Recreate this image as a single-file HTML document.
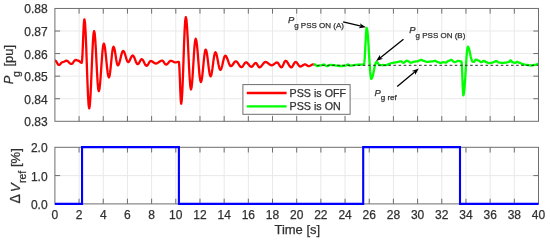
<!DOCTYPE html>
<html><head><meta charset="utf-8"><style>html,body{margin:0;padding:0;background:#fff;width:550px;height:242px;overflow:hidden}svg{display:block;filter:blur(0.3px)}text{stroke:#333;stroke-width:0.25px}</style></head>
<body>
<svg width="550" height="242" viewBox="0 0 550 242">
<rect width="550" height="242" fill="#fff"/>
<defs><clipPath id="ct"><rect x="54.9" y="8.45" width="483.6" height="112.85"/></clipPath><clipPath id="cb"><rect x="52.9" y="145.3" width="487.6" height="60.599999999999994"/></clipPath></defs>
<path d="M79.08,8.45V121.3M79.08,147.3V203.9M103.26,8.45V121.3M103.26,147.3V203.9M127.44,8.45V121.3M127.44,147.3V203.9M151.62,8.45V121.3M151.62,147.3V203.9M175.80,8.45V121.3M175.80,147.3V203.9M199.98,8.45V121.3M199.98,147.3V203.9M224.16,8.45V121.3M224.16,147.3V203.9M248.34,8.45V121.3M248.34,147.3V203.9M272.52,8.45V121.3M272.52,147.3V203.9M296.70,8.45V121.3M296.70,147.3V203.9M320.88,8.45V121.3M320.88,147.3V203.9M345.06,8.45V121.3M345.06,147.3V203.9M369.24,8.45V121.3M369.24,147.3V203.9M393.42,8.45V121.3M393.42,147.3V203.9M417.60,8.45V121.3M417.60,147.3V203.9M441.78,8.45V121.3M441.78,147.3V203.9M465.96,8.45V121.3M465.96,147.3V203.9M490.14,8.45V121.3M490.14,147.3V203.9M514.32,8.45V121.3M514.32,147.3V203.9M54.9,31.02H538.5M54.9,53.59H538.5M54.9,76.16H538.5M54.9,98.73H538.5M54.9,175.60H538.5" stroke="#e9e9e9" stroke-width="1" fill="none"/>
<path d="M79.08,8.45v5.2M79.08,121.3v-5.2M79.08,147.3v5.2M79.08,203.9v-5.2M103.26,8.45v5.2M103.26,121.3v-5.2M103.26,147.3v5.2M103.26,203.9v-5.2M127.44,8.45v5.2M127.44,121.3v-5.2M127.44,147.3v5.2M127.44,203.9v-5.2M151.62,8.45v5.2M151.62,121.3v-5.2M151.62,147.3v5.2M151.62,203.9v-5.2M175.80,8.45v5.2M175.80,121.3v-5.2M175.80,147.3v5.2M175.80,203.9v-5.2M199.98,8.45v5.2M199.98,121.3v-5.2M199.98,147.3v5.2M199.98,203.9v-5.2M224.16,8.45v5.2M224.16,121.3v-5.2M224.16,147.3v5.2M224.16,203.9v-5.2M248.34,8.45v5.2M248.34,121.3v-5.2M248.34,147.3v5.2M248.34,203.9v-5.2M272.52,8.45v5.2M272.52,121.3v-5.2M272.52,147.3v5.2M272.52,203.9v-5.2M296.70,8.45v5.2M296.70,121.3v-5.2M296.70,147.3v5.2M296.70,203.9v-5.2M320.88,8.45v5.2M320.88,121.3v-5.2M320.88,147.3v5.2M320.88,203.9v-5.2M345.06,8.45v5.2M345.06,121.3v-5.2M345.06,147.3v5.2M345.06,203.9v-5.2M369.24,8.45v5.2M369.24,121.3v-5.2M369.24,147.3v5.2M369.24,203.9v-5.2M393.42,8.45v5.2M393.42,121.3v-5.2M393.42,147.3v5.2M393.42,203.9v-5.2M417.60,8.45v5.2M417.60,121.3v-5.2M417.60,147.3v5.2M417.60,203.9v-5.2M441.78,8.45v5.2M441.78,121.3v-5.2M441.78,147.3v5.2M441.78,203.9v-5.2M465.96,8.45v5.2M465.96,121.3v-5.2M465.96,147.3v5.2M465.96,203.9v-5.2M490.14,8.45v5.2M490.14,121.3v-5.2M490.14,147.3v5.2M490.14,203.9v-5.2M514.32,8.45v5.2M514.32,121.3v-5.2M514.32,147.3v5.2M514.32,203.9v-5.2M54.9,31.02h5.2M538.5,31.02h-5.2M54.9,53.59h5.2M538.5,53.59h-5.2M54.9,76.16h5.2M538.5,76.16h-5.2M54.9,98.73h5.2M538.5,98.73h-5.2M54.9,175.60h5.2M538.5,175.60h-5.2" stroke="#6e6e6e" stroke-width="1" fill="none"/>
<g clip-path="url(#ct)">
<path d="M54.80,60.30 L55.34,60.48 L55.88,60.99 L56.41,61.75 L56.95,62.65 L57.49,63.55 L58.02,64.31 L58.56,64.82 L59.10,65.00 L59.51,64.89 L59.92,64.59 L60.34,64.14 L60.75,63.60 L61.16,63.06 L61.58,62.61 L61.99,62.31 L62.40,62.20 L62.91,62.14 L63.42,61.98 L63.94,61.74 L64.45,61.45 L64.96,61.16 L65.47,60.92 L65.99,60.76 L66.50,60.70 L67.10,60.83 L67.70,61.18 L68.30,61.72 L68.90,62.35 L69.50,62.98 L70.10,63.52 L70.70,63.87 L71.30,64.00 L71.86,63.84 L72.42,63.40 L72.99,62.73 L73.55,61.95 L74.11,61.17 L74.67,60.50 L75.24,60.06 L75.80,59.90 L76.08,59.93 L76.35,60.00 L76.62,60.12 L76.90,60.25 L77.17,60.38 L77.45,60.50 L77.72,60.57 L78.00,60.60 L78.46,60.68 L78.92,60.92 L79.39,61.28 L79.85,61.70 L80.31,62.12 L80.78,62.48 L81.24,62.72 L81.70,62.80 L82.04,61.14 L82.38,56.43 L82.71,49.37 L83.05,41.05 L83.39,32.73 L83.73,25.67 L84.06,20.96 L84.40,19.30 L85.00,22.69 L85.60,32.35 L86.20,46.80 L86.80,63.85 L87.40,80.90 L88.00,95.35 L88.60,105.01 L89.20,108.40 L89.81,105.46 L90.42,97.08 L91.04,84.54 L91.65,69.75 L92.26,54.96 L92.88,42.42 L93.49,34.04 L94.10,31.10 L94.69,33.39 L95.27,39.90 L95.86,49.65 L96.45,61.15 L97.04,72.65 L97.62,82.40 L98.21,88.91 L98.80,91.20 L99.42,89.39 L100.05,84.23 L100.67,76.51 L101.30,67.40 L101.92,58.29 L102.55,50.57 L103.17,45.41 L103.80,43.60 L104.44,44.89 L105.08,48.55 L105.71,54.03 L106.35,60.50 L106.99,66.97 L107.62,72.45 L108.26,76.11 L108.90,77.40 L109.48,76.24 L110.05,72.92 L110.62,67.96 L111.20,62.10 L111.78,56.24 L112.35,51.28 L112.92,47.96 L113.50,46.80 L114.05,47.51 L114.60,49.52 L115.15,52.54 L115.70,56.10 L116.25,59.66 L116.80,62.68 L117.35,64.69 L117.90,65.40 L118.56,64.85 L119.23,63.28 L119.89,60.92 L120.55,58.15 L121.21,55.38 L121.88,53.02 L122.54,51.45 L123.20,50.90 L123.83,51.33 L124.45,52.54 L125.08,54.36 L125.70,56.50 L126.32,58.64 L126.95,60.46 L127.57,61.67 L128.20,62.10 L128.76,61.85 L129.32,61.13 L129.89,60.06 L130.45,58.80 L131.01,57.54 L131.57,56.47 L132.14,55.75 L132.70,55.50 L133.32,55.83 L133.95,56.77 L134.57,58.19 L135.20,59.85 L135.82,61.51 L136.45,62.93 L137.07,63.87 L137.70,64.20 L138.21,64.01 L138.72,63.47 L139.24,62.66 L139.75,61.70 L140.26,60.74 L140.78,59.93 L141.29,59.39 L141.80,59.20 L142.39,59.45 L142.98,60.17 L143.56,61.24 L144.15,62.50 L144.74,63.76 L145.32,64.83 L145.91,65.55 L146.50,65.80 L147.04,65.62 L147.57,65.10 L148.11,64.32 L148.65,63.40 L149.19,62.48 L149.73,61.70 L150.26,61.18 L150.80,61.00 L151.43,61.10 L152.05,61.37 L152.68,61.77 L153.30,62.25 L153.93,62.73 L154.55,63.13 L155.18,63.40 L155.80,63.50 L156.60,63.39 L157.40,63.08 L158.20,62.60 L159.00,62.05 L159.80,61.50 L160.60,61.02 L161.40,60.71 L162.20,60.60 L162.69,60.75 L163.17,61.19 L163.66,61.83 L164.15,62.60 L164.64,63.37 L165.12,64.01 L165.61,64.45 L166.10,64.60 L166.69,64.46 L167.28,64.04 L167.86,63.43 L168.45,62.70 L169.04,61.97 L169.62,61.36 L170.21,60.94 L170.80,60.80 L171.38,60.86 L171.95,61.03 L172.53,61.29 L173.10,61.60 L173.68,61.91 L174.25,62.17 L174.83,62.34 L175.40,62.40 L175.83,62.38 L176.25,62.31 L176.68,62.21 L177.10,62.10 L177.53,61.99 L177.95,61.89 L178.38,61.82 L178.80,61.80 L179.10,63.39 L179.40,67.94 L179.70,74.73 L180.00,82.75 L180.30,90.77 L180.60,97.56 L180.90,102.11 L181.20,103.70 L181.77,100.40 L182.35,91.02 L182.93,76.97 L183.50,60.40 L184.07,43.83 L184.65,29.78 L185.23,20.40 L185.80,17.10 L186.45,19.85 L187.10,27.69 L187.75,39.42 L188.40,53.25 L189.05,67.08 L189.70,78.81 L190.35,86.65 L191.00,89.40 L191.59,87.47 L192.18,81.99 L192.76,73.78 L193.35,64.10 L193.94,54.42 L194.52,46.21 L195.11,40.73 L195.70,38.80 L196.35,40.45 L197.00,45.14 L197.65,52.16 L198.30,60.45 L198.95,68.74 L199.60,75.76 L200.25,80.45 L200.90,82.10 L201.50,80.86 L202.10,77.34 L202.70,72.07 L203.30,65.85 L203.90,59.63 L204.50,54.36 L205.10,50.84 L205.70,49.60 L206.31,50.62 L206.92,53.51 L207.54,57.84 L208.15,62.95 L208.76,68.06 L209.38,72.39 L209.99,75.28 L210.60,76.30 L211.20,75.39 L211.80,72.79 L212.40,68.89 L213.00,64.30 L213.60,59.71 L214.20,55.81 L214.80,53.21 L215.40,52.30 L216.03,52.97 L216.65,54.88 L217.28,57.73 L217.90,61.10 L218.53,64.47 L219.15,67.32 L219.78,69.23 L220.40,69.90 L221.01,69.36 L221.62,67.82 L222.24,65.52 L222.85,62.80 L223.46,60.08 L224.08,57.78 L224.69,56.24 L225.30,55.70 L226.00,56.10 L226.70,57.24 L227.40,58.94 L228.10,60.95 L228.80,62.96 L229.50,64.66 L230.20,65.80 L230.90,66.20 L231.51,66.01 L232.12,65.48 L232.74,64.69 L233.35,63.75 L233.96,62.81 L234.58,62.02 L235.19,61.49 L235.80,61.30 L236.51,61.52 L237.23,62.16 L237.94,63.12 L238.65,64.25 L239.36,65.38 L240.07,66.34 L240.79,66.98 L241.50,67.20 L242.06,67.01 L242.62,66.48 L243.19,65.69 L243.75,64.75 L244.31,63.81 L244.88,63.02 L245.44,62.49 L246.00,62.30 L246.68,62.47 L247.35,62.96 L248.03,63.69 L248.70,64.55 L249.38,65.41 L250.05,66.14 L250.72,66.63 L251.40,66.80 L251.94,66.66 L252.47,66.24 L253.01,65.63 L253.55,64.90 L254.09,64.17 L254.62,63.56 L255.16,63.14 L255.70,63.00 L256.18,63.16 L256.65,63.63 L257.12,64.33 L257.60,65.15 L258.07,65.97 L258.55,66.67 L259.02,67.14 L259.50,67.30 L260.25,67.10 L261.00,66.52 L261.75,65.66 L262.50,64.65 L263.25,63.64 L264.00,62.78 L264.75,62.20 L265.50,62.00 L266.27,62.13 L267.05,62.48 L267.82,63.02 L268.60,63.65 L269.38,64.28 L270.15,64.82 L270.93,65.17 L271.70,65.30 L272.36,65.19 L273.02,64.89 L273.69,64.44 L274.35,63.90 L275.01,63.36 L275.68,62.91 L276.34,62.61 L277.00,62.50 L277.56,62.68 L278.12,63.20 L278.69,63.98 L279.25,64.90 L279.81,65.82 L280.38,66.60 L280.94,67.12 L281.50,67.30 L282.01,67.06 L282.52,66.36 L283.04,65.32 L283.55,64.10 L284.06,62.88 L284.58,61.84 L285.09,61.14 L285.60,60.90 L286.31,61.14 L287.03,61.84 L287.74,62.88 L288.45,64.10 L289.16,65.32 L289.88,66.36 L290.59,67.06 L291.30,67.30 L291.84,67.10 L292.38,66.52 L292.91,65.66 L293.45,64.65 L293.99,63.64 L294.53,62.78 L295.06,62.20 L295.60,62.00 L296.19,62.17 L296.78,62.66 L297.36,63.39 L297.95,64.25 L298.54,65.11 L299.12,65.84 L299.71,66.33 L300.30,66.50 L300.89,66.42 L301.48,66.19 L302.06,65.85 L302.65,65.45 L303.24,65.05 L303.82,64.71 L304.41,64.48 L305.00,64.40 L305.45,64.46 L305.90,64.65 L306.35,64.92 L306.80,65.25 L307.25,65.58 L307.70,65.85 L308.15,66.04 L308.60,66.10 L309.25,66.03 L309.90,65.82 L310.55,65.51 L311.20,65.15 L311.85,64.79 L312.50,64.48 L313.15,64.27 L313.80,64.20" stroke="#ff0000" stroke-width="2.3" fill="none" stroke-linejoin="round"/>
<path d="M313.80,64.40 L313.90,64.40 L314.00,64.40 L314.10,64.40 L314.20,64.40 L314.30,64.40 L314.40,64.40 L314.50,64.40 L314.60,64.40 L314.94,64.46 L315.28,64.65 L315.61,64.92 L315.95,65.25 L316.29,65.58 L316.62,65.85 L316.96,66.04 L317.30,66.10 L317.69,66.07 L318.07,66.00 L318.46,65.88 L318.85,65.75 L319.24,65.62 L319.62,65.50 L320.01,65.43 L320.40,65.40 L320.84,65.37 L321.27,65.27 L321.71,65.12 L322.15,64.95 L322.59,64.78 L323.02,64.63 L323.46,64.53 L323.90,64.50 L324.27,64.56 L324.65,64.73 L325.02,64.99 L325.40,65.30 L325.77,65.61 L326.15,65.87 L326.52,66.04 L326.90,66.10 L327.32,66.05 L327.75,65.92 L328.18,65.73 L328.60,65.50 L329.02,65.27 L329.45,65.08 L329.88,64.95 L330.30,64.90 L330.74,64.91 L331.18,64.94 L331.61,64.99 L332.05,65.05 L332.49,65.11 L332.93,65.16 L333.36,65.19 L333.80,65.20 L334.18,65.22 L334.55,65.26 L334.93,65.32 L335.30,65.40 L335.68,65.48 L336.05,65.54 L336.43,65.58 L336.80,65.60 L337.09,65.62 L337.38,65.66 L337.66,65.72 L337.95,65.80 L338.24,65.88 L338.53,65.94 L338.81,65.98 L339.10,66.00 L339.59,66.00 L340.08,66.00 L340.56,66.00 L341.05,66.00 L341.54,66.00 L342.02,66.00 L342.51,66.00 L343.00,66.00 L343.30,65.98 L343.60,65.94 L343.90,65.88 L344.20,65.80 L344.50,65.72 L344.80,65.66 L345.10,65.62 L345.40,65.60 L345.71,65.56 L346.02,65.44 L346.34,65.26 L346.65,65.05 L346.96,64.84 L347.27,64.66 L347.59,64.54 L347.90,64.50 L348.15,64.54 L348.40,64.66 L348.65,64.84 L348.90,65.05 L349.15,65.26 L349.40,65.44 L349.65,65.56 L349.90,65.60 L350.27,65.59 L350.65,65.57 L351.02,65.54 L351.40,65.50 L351.77,65.46 L352.15,65.43 L352.52,65.41 L352.90,65.40 L353.26,65.38 L353.62,65.33 L353.99,65.25 L354.35,65.15 L354.71,65.05 L355.07,64.97 L355.44,64.92 L355.80,64.90 L356.18,64.89 L356.55,64.86 L356.93,64.81 L357.30,64.75 L357.68,64.69 L358.05,64.64 L358.43,64.61 L358.80,64.60 L359.24,64.60 L359.68,64.60 L360.11,64.60 L360.55,64.60 L360.99,64.60 L361.43,64.60 L361.86,64.60 L362.30,64.60 L362.51,64.59 L362.73,64.56 L362.94,64.51 L363.15,64.45 L363.36,64.39 L363.57,64.34 L363.79,64.31 L364.00,64.30 L364.34,62.92 L364.68,58.98 L365.01,53.10 L365.35,46.15 L365.69,39.20 L366.02,33.32 L366.36,29.38 L366.70,28.00 L367.27,29.94 L367.85,35.45 L368.43,43.71 L369.00,53.45 L369.57,63.19 L370.15,71.45 L370.73,76.96 L371.30,78.90 L371.95,78.25 L372.60,76.41 L373.25,73.65 L373.90,70.40 L374.55,67.15 L375.20,64.39 L375.85,62.55 L376.50,61.90 L376.91,62.03 L377.32,62.38 L377.74,62.92 L378.15,63.55 L378.56,64.18 L378.98,64.72 L379.39,65.07 L379.80,65.20 L380.20,65.19 L380.60,65.17 L381.00,65.14 L381.40,65.10 L381.80,65.06 L382.20,65.03 L382.60,65.01 L383.00,65.00 L383.38,65.01 L383.75,65.03 L384.12,65.06 L384.50,65.10 L384.88,65.14 L385.25,65.17 L385.62,65.19 L386.00,65.20 L386.32,65.16 L386.65,65.05 L386.98,64.89 L387.30,64.70 L387.62,64.51 L387.95,64.35 L388.28,64.24 L388.60,64.20 L388.93,64.16 L389.25,64.05 L389.57,63.89 L389.90,63.70 L390.23,63.51 L390.55,63.35 L390.88,63.24 L391.20,63.20 L391.52,63.18 L391.85,63.13 L392.18,63.05 L392.50,62.95 L392.82,62.85 L393.15,62.77 L393.48,62.72 L393.80,62.70 L394.07,62.68 L394.35,62.64 L394.62,62.58 L394.90,62.50 L395.18,62.42 L395.45,62.36 L395.73,62.32 L396.00,62.30 L396.62,62.26 L397.25,62.15 L397.88,61.99 L398.50,61.80 L399.12,61.61 L399.75,61.45 L400.38,61.34 L401.00,61.30 L401.30,61.36 L401.60,61.52 L401.90,61.76 L402.20,62.05 L402.50,62.34 L402.80,62.58 L403.10,62.74 L403.40,62.80 L403.84,62.72 L404.27,62.49 L404.71,62.15 L405.15,61.75 L405.59,61.35 L406.02,61.01 L406.46,60.78 L406.90,60.70 L407.40,60.78 L407.90,60.99 L408.40,61.32 L408.90,61.70 L409.40,62.08 L409.90,62.41 L410.40,62.62 L410.90,62.70 L411.36,62.66 L411.82,62.54 L412.29,62.36 L412.75,62.15 L413.21,61.94 L413.68,61.76 L414.14,61.64 L414.60,61.60 L414.93,61.59 L415.25,61.56 L415.57,61.51 L415.90,61.45 L416.23,61.39 L416.55,61.34 L416.88,61.31 L417.20,61.30 L417.70,61.25 L418.20,61.09 L418.70,60.87 L419.20,60.60 L419.70,60.33 L420.20,60.11 L420.70,59.95 L421.20,59.90 L421.52,59.94 L421.85,60.05 L422.18,60.21 L422.50,60.40 L422.82,60.59 L423.15,60.75 L423.48,60.86 L423.80,60.90 L424.21,60.94 L424.62,61.05 L425.04,61.21 L425.45,61.40 L425.86,61.59 L426.28,61.75 L426.69,61.86 L427.10,61.90 L427.51,61.89 L427.93,61.86 L428.34,61.81 L428.75,61.75 L429.16,61.69 L429.57,61.64 L429.99,61.61 L430.40,61.60 L430.60,61.59 L430.80,61.56 L431.00,61.51 L431.20,61.45 L431.40,61.39 L431.60,61.34 L431.80,61.31 L432.00,61.30 L432.41,61.28 L432.82,61.24 L433.24,61.18 L433.65,61.10 L434.06,61.02 L434.48,60.96 L434.89,60.92 L435.30,60.90 L435.62,60.95 L435.95,61.09 L436.27,61.30 L436.60,61.55 L436.93,61.80 L437.25,62.01 L437.57,62.15 L437.90,62.20 L438.24,62.23 L438.57,62.30 L438.91,62.42 L439.25,62.55 L439.59,62.68 L439.93,62.80 L440.26,62.87 L440.60,62.90 L440.93,62.87 L441.25,62.80 L441.57,62.68 L441.90,62.55 L442.23,62.42 L442.55,62.30 L442.88,62.23 L443.20,62.20 L443.54,62.22 L443.88,62.26 L444.21,62.32 L444.55,62.40 L444.89,62.48 L445.22,62.54 L445.56,62.58 L445.90,62.60 L446.22,62.54 L446.55,62.35 L446.88,62.08 L447.20,61.75 L447.52,61.42 L447.85,61.15 L448.18,60.96 L448.50,60.90 L448.84,60.86 L449.18,60.75 L449.51,60.59 L449.85,60.40 L450.19,60.21 L450.52,60.05 L450.86,59.94 L451.20,59.90 L451.61,59.99 L452.02,60.24 L452.44,60.61 L452.85,61.05 L453.26,61.49 L453.68,61.86 L454.09,62.11 L454.50,62.20 L454.99,62.15 L455.48,62.01 L455.96,61.80 L456.45,61.55 L456.94,61.30 L457.42,61.09 L457.91,60.95 L458.40,60.90 L458.65,60.92 L458.90,60.96 L459.15,61.02 L459.40,61.10 L459.65,61.18 L459.90,61.24 L460.15,61.28 L460.40,61.30 L460.52,61.31 L460.65,61.33 L460.77,61.36 L460.90,61.40 L461.02,61.44 L461.15,61.47 L461.27,61.49 L461.40,61.50 L461.65,62.79 L461.90,66.45 L462.15,71.93 L462.40,78.40 L462.65,84.87 L462.90,90.35 L463.15,94.01 L463.40,95.30 L463.96,93.45 L464.52,88.18 L465.09,80.30 L465.65,71.00 L466.21,61.70 L466.77,53.82 L467.34,48.55 L467.90,46.70 L468.49,47.27 L469.07,48.88 L469.66,51.30 L470.25,54.15 L470.84,57.00 L471.43,59.42 L472.01,61.03 L472.60,61.60 L472.76,61.61 L472.93,61.64 L473.09,61.69 L473.25,61.75 L473.41,61.81 L473.57,61.86 L473.74,61.89 L473.90,61.90 L474.15,61.81 L474.40,61.56 L474.65,61.19 L474.90,60.75 L475.15,60.31 L475.40,59.94 L475.65,59.69 L475.90,59.60 L476.24,59.64 L476.57,59.75 L476.91,59.91 L477.25,60.10 L477.59,60.29 L477.93,60.45 L478.26,60.56 L478.60,60.60 L478.93,60.66 L479.25,60.83 L479.57,61.09 L479.90,61.40 L480.23,61.71 L480.55,61.97 L480.88,62.14 L481.20,62.20 L481.52,62.15 L481.85,62.01 L482.18,61.80 L482.50,61.55 L482.82,61.30 L483.15,61.09 L483.48,60.95 L483.80,60.90 L484.14,60.95 L484.48,61.09 L484.81,61.30 L485.15,61.55 L485.49,61.80 L485.82,62.01 L486.16,62.15 L486.50,62.20 L486.82,62.24 L487.15,62.35 L487.48,62.51 L487.80,62.70 L488.12,62.89 L488.45,63.05 L488.78,63.16 L489.10,63.20 L489.51,63.18 L489.93,63.11 L490.34,63.01 L490.75,62.90 L491.16,62.79 L491.57,62.69 L491.99,62.62 L492.40,62.60 L492.60,62.58 L492.80,62.51 L493.00,62.41 L493.20,62.30 L493.40,62.19 L493.60,62.09 L493.80,62.02 L494.00,62.00 L494.25,61.97 L494.50,61.87 L494.75,61.72 L495.00,61.55 L495.25,61.38 L495.50,61.23 L495.75,61.13 L496.00,61.10 L496.41,61.16 L496.82,61.32 L497.24,61.56 L497.65,61.85 L498.06,62.14 L498.48,62.38 L498.89,62.54 L499.30,62.60 L499.71,62.61 L500.12,62.64 L500.54,62.69 L500.95,62.75 L501.36,62.81 L501.78,62.86 L502.19,62.89 L502.60,62.90 L503.01,62.89 L503.43,62.86 L503.84,62.81 L504.25,62.75 L504.66,62.69 L505.07,62.64 L505.49,62.61 L505.90,62.60 L506.31,62.57 L506.72,62.50 L507.14,62.38 L507.55,62.25 L507.96,62.12 L508.38,62.00 L508.79,61.93 L509.20,61.90 L509.36,61.84 L509.52,61.67 L509.69,61.41 L509.85,61.10 L510.01,60.79 L510.18,60.53 L510.34,60.36 L510.50,60.30 L510.75,60.37 L511.00,60.58 L511.25,60.89 L511.50,61.25 L511.75,61.61 L512.00,61.92 L512.25,62.13 L512.50,62.20 L512.83,62.23 L513.15,62.30 L513.48,62.42 L513.80,62.55 L514.12,62.68 L514.45,62.80 L514.77,62.87 L515.10,62.90 L515.35,62.86 L515.60,62.75 L515.85,62.59 L516.10,62.40 L516.35,62.21 L516.60,62.05 L516.85,61.94 L517.10,61.90 L517.49,61.94 L517.88,62.06 L518.26,62.24 L518.65,62.45 L519.04,62.66 L519.43,62.84 L519.81,62.96 L520.20,63.00 L520.50,63.05 L520.80,63.18 L521.10,63.37 L521.40,63.60 L521.70,63.83 L522.00,64.02 L522.30,64.15 L522.60,64.20 L523.10,64.23 L523.60,64.30 L524.10,64.42 L524.60,64.55 L525.10,64.68 L525.60,64.80 L526.10,64.87 L526.60,64.90 L527.18,64.92 L527.75,64.99 L528.33,65.09 L528.90,65.20 L529.48,65.31 L530.05,65.41 L530.62,65.48 L531.20,65.50 L531.70,65.48 L532.20,65.41 L532.70,65.31 L533.20,65.20 L533.70,65.09 L534.20,64.99 L534.70,64.92 L535.20,64.90 L535.59,64.86 L535.98,64.75 L536.36,64.59 L536.75,64.40 L537.14,64.21 L537.52,64.05 L537.91,63.94 L538.30,63.90" stroke="#00ff00" stroke-width="2.3" fill="none" stroke-linejoin="round"/>
<path d="M313.8,65.3H538.5" stroke="#2a2a2a" stroke-width="1.0" stroke-dasharray="2.6 2.51" stroke-dashoffset="2.08" fill="none"/>
</g>
<rect x="54.9" y="8.45" width="483.60" height="112.85" stroke="#6e6e6e" stroke-width="1" fill="none"/>
<rect x="54.9" y="147.3" width="483.60" height="56.60" stroke="#6e6e6e" stroke-width="1" fill="none"/>
<path d="M54.9,203.90H82.05V147.10H178.9V203.90H363.2V147.10H460.0V203.90H538.5" stroke="#0000ff" stroke-width="2.1" fill="none" stroke-linejoin="miter"/>
<text x="47.6" y="13.45" font-family="'Liberation Sans', Arial, sans-serif" font-size="12" fill="#303030" text-anchor="end">0.88</text>
<text x="47.6" y="36.02" font-family="'Liberation Sans', Arial, sans-serif" font-size="12" fill="#303030" text-anchor="end">0.87</text>
<text x="47.6" y="58.59" font-family="'Liberation Sans', Arial, sans-serif" font-size="12" fill="#303030" text-anchor="end">0.86</text>
<text x="47.6" y="81.16" font-family="'Liberation Sans', Arial, sans-serif" font-size="12" fill="#303030" text-anchor="end">0.85</text>
<text x="47.6" y="103.73" font-family="'Liberation Sans', Arial, sans-serif" font-size="12" fill="#303030" text-anchor="end">0.84</text>
<text x="47.6" y="126.30" font-family="'Liberation Sans', Arial, sans-serif" font-size="12" fill="#303030" text-anchor="end">0.83</text>
<text x="47.6" y="152.20" font-family="'Liberation Sans', Arial, sans-serif" font-size="12" fill="#303030" text-anchor="end">2.0</text>
<text x="47.6" y="180.50" font-family="'Liberation Sans', Arial, sans-serif" font-size="12" fill="#303030" text-anchor="end">1.0</text>
<text x="47.6" y="208.80" font-family="'Liberation Sans', Arial, sans-serif" font-size="12" fill="#303030" text-anchor="end">0.0</text>
<text x="54.90" y="218.6" font-family="'Liberation Sans', Arial, sans-serif" font-size="12" fill="#303030" text-anchor="middle">0</text>
<text x="79.08" y="218.6" font-family="'Liberation Sans', Arial, sans-serif" font-size="12" fill="#303030" text-anchor="middle">2</text>
<text x="103.26" y="218.6" font-family="'Liberation Sans', Arial, sans-serif" font-size="12" fill="#303030" text-anchor="middle">4</text>
<text x="127.44" y="218.6" font-family="'Liberation Sans', Arial, sans-serif" font-size="12" fill="#303030" text-anchor="middle">6</text>
<text x="151.62" y="218.6" font-family="'Liberation Sans', Arial, sans-serif" font-size="12" fill="#303030" text-anchor="middle">8</text>
<text x="175.80" y="218.6" font-family="'Liberation Sans', Arial, sans-serif" font-size="12" fill="#303030" text-anchor="middle">10</text>
<text x="199.98" y="218.6" font-family="'Liberation Sans', Arial, sans-serif" font-size="12" fill="#303030" text-anchor="middle">12</text>
<text x="224.16" y="218.6" font-family="'Liberation Sans', Arial, sans-serif" font-size="12" fill="#303030" text-anchor="middle">14</text>
<text x="248.34" y="218.6" font-family="'Liberation Sans', Arial, sans-serif" font-size="12" fill="#303030" text-anchor="middle">16</text>
<text x="272.52" y="218.6" font-family="'Liberation Sans', Arial, sans-serif" font-size="12" fill="#303030" text-anchor="middle">18</text>
<text x="296.70" y="218.6" font-family="'Liberation Sans', Arial, sans-serif" font-size="12" fill="#303030" text-anchor="middle">20</text>
<text x="320.88" y="218.6" font-family="'Liberation Sans', Arial, sans-serif" font-size="12" fill="#303030" text-anchor="middle">22</text>
<text x="345.06" y="218.6" font-family="'Liberation Sans', Arial, sans-serif" font-size="12" fill="#303030" text-anchor="middle">24</text>
<text x="369.24" y="218.6" font-family="'Liberation Sans', Arial, sans-serif" font-size="12" fill="#303030" text-anchor="middle">26</text>
<text x="393.42" y="218.6" font-family="'Liberation Sans', Arial, sans-serif" font-size="12" fill="#303030" text-anchor="middle">28</text>
<text x="417.60" y="218.6" font-family="'Liberation Sans', Arial, sans-serif" font-size="12" fill="#303030" text-anchor="middle">30</text>
<text x="441.78" y="218.6" font-family="'Liberation Sans', Arial, sans-serif" font-size="12" fill="#303030" text-anchor="middle">32</text>
<text x="465.96" y="218.6" font-family="'Liberation Sans', Arial, sans-serif" font-size="12" fill="#303030" text-anchor="middle">34</text>
<text x="490.14" y="218.6" font-family="'Liberation Sans', Arial, sans-serif" font-size="12" fill="#303030" text-anchor="middle">36</text>
<text x="514.32" y="218.6" font-family="'Liberation Sans', Arial, sans-serif" font-size="12" fill="#303030" text-anchor="middle">38</text>
<text x="538.50" y="218.6" font-family="'Liberation Sans', Arial, sans-serif" font-size="12" fill="#303030" text-anchor="middle">40</text>
<text x="297.3" y="234" font-family="'Liberation Sans', Arial, sans-serif" font-size="13" fill="#303030" text-anchor="middle">Time [s]</text>
<text transform="translate(12.8,84.3) rotate(-90)" font-family="'Liberation Sans', Arial, sans-serif" font-size="13" fill="#303030" font-style="italic">P</text>
<text transform="translate(19.6,77.0) rotate(-90)" font-family="'Liberation Sans', Arial, sans-serif" font-size="10.5" fill="#303030">g</text>
<text transform="translate(12.9,66.6) rotate(-90)" font-family="'Liberation Sans', Arial, sans-serif" font-size="13" fill="#303030">[pu]</text>
<text transform="translate(19.9,203.5) rotate(-90)" font-family="'Liberation Sans', Arial, sans-serif" font-size="14" fill="#303030">&#916;</text>
<text transform="translate(19.8,191.9) rotate(-90)" font-family="'Liberation Sans', Arial, sans-serif" font-size="13" fill="#303030" font-style="italic">V</text>
<text transform="translate(25.9,183.0) rotate(-90)" font-family="'Liberation Sans', Arial, sans-serif" font-size="10.4" fill="#303030">ref</text>
<text transform="translate(19.6,167.0) rotate(-90)" font-family="'Liberation Sans', Arial, sans-serif" font-size="13" fill="#303030">[%]</text>
<rect x="242.9" y="84.6" width="107.2" height="29.7" fill="#fff" stroke="#6e6e6e" stroke-width="1"/>
<path d="M246.8,93H286.6" stroke="#ff0000" stroke-width="2.3"/>
<path d="M246.8,106.3H286.6" stroke="#00ff00" stroke-width="2.3"/>
<text x="289.6" y="97" font-family="'Liberation Sans', Arial, sans-serif" font-size="10.7" fill="#303030">PSS is OFF</text>
<text x="289.6" y="110.2" font-family="'Liberation Sans', Arial, sans-serif" font-size="10.7" fill="#303030">PSS is ON</text>
<text x="287.9" y="22.8" font-family="'Liberation Sans', Arial, sans-serif" font-size="9.4" fill="#303030"><tspan font-style="italic">P</tspan><tspan font-size="8" dy="5">g </tspan><tspan font-size="8">PSS ON (A)</tspan></text>
<text x="409.3" y="33.0" font-family="'Liberation Sans', Arial, sans-serif" font-size="9.4" fill="#303030"><tspan font-style="italic">P</tspan><tspan font-size="8" dy="5">g </tspan><tspan font-size="8">PSS ON (B)</tspan></text>
<text x="374.5" y="95.5" font-family="'Liberation Sans', Arial, sans-serif" font-size="9.4" fill="#303030"><tspan font-style="italic">P</tspan><tspan font-size="8" dy="4.4">g </tspan><tspan font-size="8">ref</tspan></text>
<path d="M343.1,21.8L361.10,26.12" stroke="#000" stroke-width="1.3"/><path d="M366.0,27.3L358.59,28.19L361.10,26.12L359.80,23.14Z" fill="#000"/>
<path d="M403.5,39.3L380.04,57.96" stroke="#000" stroke-width="1.3"/><path d="M376.1,61.1L379.96,54.71L380.04,57.96L383.20,58.78Z" fill="#000"/>
<path d="M397.2,86.6L414.94,71.74" stroke="#000" stroke-width="1.3"/><path d="M418.8,68.5L415.10,74.99L414.94,71.74L411.76,71.00Z" fill="#000"/>
</svg>
</body></html>
